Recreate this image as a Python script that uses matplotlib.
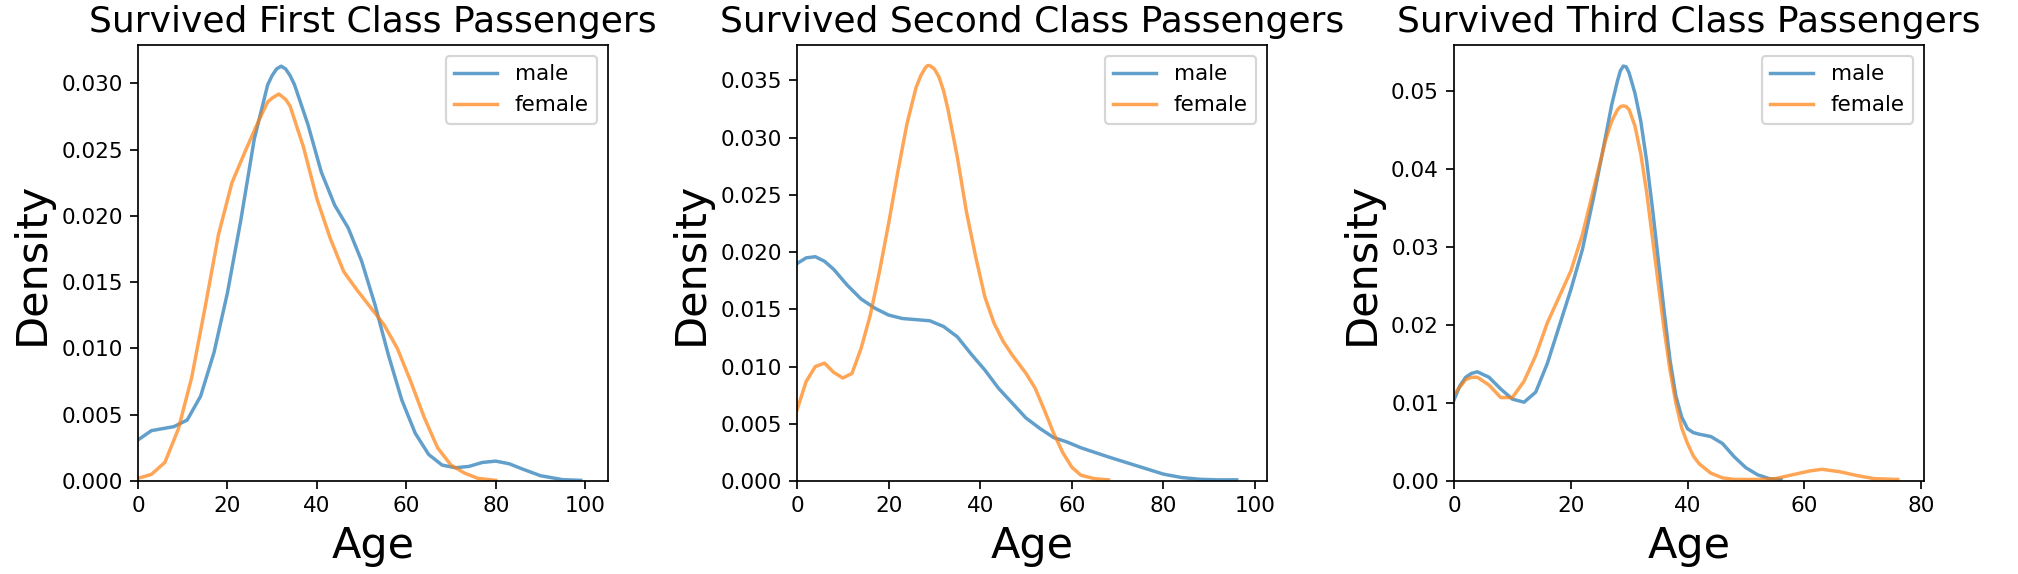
import matplotlib
matplotlib.use('Agg')
import matplotlib.pyplot as plt

# values (age, density)
titles = ["Survived First Class Passengers", "Survived Second Class Passengers", "Survived Third Class Passengers"]

age_m1 = [0, 3, 8, 11, 14, 17, 20, 23, 26, 29, 30, 31, 32, 33, 34, 35, 38, 41, 44, 47, 50, 53, 56, 59, 62, 65, 68, 71, 74,
          77, 80, 83, 86, 90, 95, 99]
den_m1 = [0.0031, 0.0038, 0.0041, 0.0046, 0.0064, 0.0097, 0.0142, 0.0197, 0.0258, 0.0299, 0.0306, 0.0311, 0.0313, 0.0311,
          0.0306, 0.0299, 0.0269, 0.0233, 0.0208, 0.0191, 0.0166, 0.0133, 0.0095, 0.0061, 0.0036, 0.0020, 0.0012, 0.0010,
          0.0011, 0.0014, 0.0015, 0.0013, 0.0009, 0.0004, 0.0001, 0.00005]
age_f1 = [0, 3, 6, 9, 12, 15, 18, 21, 24, 27, 29, 30, 31.5, 33, 34, 37, 40, 43, 46, 49, 52, 55, 58, 61, 64, 67, 70, 73, 76, 80]
den_f1 = [0.0002, 0.0005, 0.0014, 0.0039, 0.0078, 0.0131, 0.0186, 0.0225, 0.0249, 0.0272, 0.0286, 0.0289, 0.0292, 0.0288,
          0.0283, 0.0252, 0.0213, 0.0183, 0.0158, 0.0144, 0.0131, 0.0118, 0.0100, 0.0075, 0.0048, 0.0025, 0.0012, 0.0006,
          0.0002, 0.00005]

age_m2 = [0, 2, 4, 6, 8, 11, 14, 17, 20, 23, 26, 29, 32, 35, 38, 41, 44, 47, 50, 53, 56, 59, 62, 65, 68, 72, 76, 80, 84, 88, 92, 96]
den_m2 = [0.0190, 0.0195, 0.0196, 0.0192, 0.0185, 0.0171, 0.0159, 0.0151, 0.0145, 0.0142, 0.0141, 0.0140, 0.0135, 0.0126,
          0.0111, 0.0097, 0.0081, 0.0068, 0.0055, 0.0046, 0.0038, 0.0034, 0.0029, 0.0025, 0.0021, 0.0016, 0.0011, 0.0006,
          0.0003, 0.00015, 0.0001, 0.0001]
age_f2 = [0, 2, 4, 6, 8, 10, 12, 14, 16, 18, 20, 22, 24, 26, 27, 28, 28.5, 29, 30, 31, 32, 33, 35, 37, 39, 41, 43, 45, 47,
          50, 52, 54, 56, 58, 60, 62, 65, 68]
den_f2 = [0.0062, 0.0087, 0.0100, 0.0103, 0.0095, 0.0090, 0.0094, 0.0116, 0.0145, 0.0183, 0.0225, 0.0270, 0.0312, 0.0344,
          0.0354, 0.0361, 0.0363, 0.0363, 0.0360, 0.0353, 0.0341, 0.0324, 0.0283, 0.0235, 0.0196, 0.0161, 0.0138, 0.0122,
          0.0110, 0.0094, 0.0081, 0.0062, 0.0042, 0.0025, 0.0012, 0.0005, 0.0002, 0.0001]

age_m3 = [0, 1, 2, 3, 4, 6, 8, 10, 12, 14, 16, 18, 20, 22, 24, 26, 27, 28, 28.5, 29, 29.5, 30, 31, 32, 33, 34, 35, 36, 37,
          38, 39, 40, 41, 42, 44, 46, 48, 50, 52, 54, 56]
den_m3 = [0.0104, 0.0122, 0.0133, 0.0138, 0.0140, 0.0133, 0.0118, 0.0105, 0.0101, 0.0114, 0.0151, 0.0198, 0.0245, 0.0297,
          0.0367, 0.0443, 0.0482, 0.0513, 0.0526, 0.0532, 0.0531, 0.0523, 0.0497, 0.0461, 0.0410, 0.0349, 0.0283, 0.0217,
          0.0155, 0.0109, 0.0082, 0.0067, 0.0062, 0.0060, 0.0057, 0.0048, 0.0031, 0.0017, 0.0008, 0.0003, 0.0002]
age_f3 = [0, 2, 3, 4, 6, 8, 10, 12, 14, 16, 18, 20, 22, 24, 26, 27, 28, 28.5, 29, 29.5, 30, 31, 32, 33, 34, 35, 36, 37, 38,
          39, 40, 41, 42, 44, 46, 48, 52, 55, 58, 61, 63, 66, 69, 72, 76]
den_f3 = [0.0111, 0.0130, 0.0133, 0.0133, 0.0123, 0.0107, 0.0107, 0.0128, 0.0161, 0.0203, 0.0236, 0.0269, 0.0316, 0.0377,
          0.0438, 0.0461, 0.0476, 0.0480, 0.0481, 0.0480, 0.0476, 0.0455, 0.0419, 0.0370, 0.0311, 0.0252, 0.0194, 0.0142,
          0.0100, 0.0068, 0.0048, 0.0032, 0.0022, 0.0010, 0.0004, 0.0002, 0.0002, 0.0003, 0.0008, 0.0013, 0.0015, 0.0012,
          0.0007, 0.0003, 0.0002]

xlims = [105.1, 102.6, 80.5]
ylims = [0.0329, 0.0381, 0.0559]

male = [(age_m1, den_m1), (age_m2, den_m2), (age_m3, den_m3)]
female = [(age_f1, den_f1), (age_f2, den_f2), (age_f3, den_f3)]

dpi = 155
fig = plt.figure(figsize=(2018 / dpi, 574 / dpi), dpi=dpi)
lefts = [138 / 2018, 797 / 2018, 1454 / 2018]

for i in range(3):
	ax = fig.add_axes([lefts[i], 1 - 481 / 574, 470 / 2018, 436 / 574])
	ax.plot(male[i][0], male[i][1], color='#1f77b4', alpha=0.7, lw=1.6, label='male')
	ax.plot(female[i][0], female[i][1], color='#ff7f0e', alpha=0.7, lw=1.6, label='female')
	ax.set_xlim(0, xlims[i])
	ax.set_ylim(0, ylims[i])
	ax.set_title(titles[i], fontsize=16.8)
	ax.set_xlabel('Age', fontsize=20)
	ax.set_ylabel('Density', fontsize=20)
	ax.tick_params(labelsize=10)
	ax.legend(loc='upper right', fontsize=10)

fig.savefig('out.png', dpi=dpi)
plt.close(fig)
